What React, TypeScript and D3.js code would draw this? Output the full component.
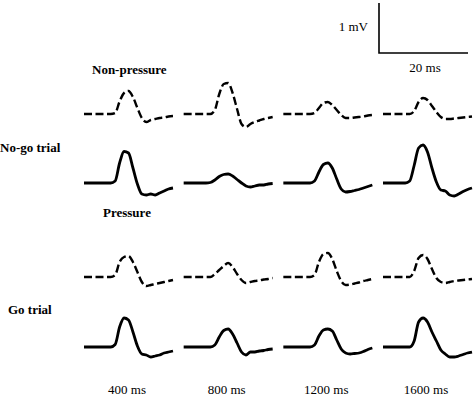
import React, { useEffect, useRef } from 'react';
import * as d3 from 'd3';

// time samples (ms) shared by every trace
const timeMs = [0, 1, 2, 3, 4, 5, 6, 7, 8, 9, 10, 11, 12, 13, 14, 15, 16, 17, 18, 19, 20];

const columns = ['400 ms', '800 ms', '1200 ms', '1600 ms'];

// amplitudes in mV, one array per column
const nonPressureDashed = [
	[0, 0, 0, 0, 0, 0, 0, 0.02, 0.25, 0.42, 0.46, 0.34, 0.12, -0.08, -0.16, -0.12, -0.1, -0.08, -0.07, -0.05, -0.04],
	[0, 0, 0, 0, 0, 0, 0, 0.08, 0.4, 0.6, 0.62, 0.42, 0.1, -0.2, -0.26, -0.2, -0.16, -0.13, -0.1, -0.08, -0.06],
	[0, 0, 0, 0, 0, 0, 0, 0.02, 0.12, 0.22, 0.24, 0.18, 0.08, -0.02, -0.08, -0.08, -0.07, -0.06, -0.05, -0.03, -0.02],
	[0, 0, 0, 0, 0, 0, 0, 0.06, 0.24, 0.32, 0.28, 0.16, 0.04, -0.06, -0.1, -0.1, -0.09, -0.08, -0.07, -0.06, -0.05],
];
const nonPressureSolid = [
	[0, 0, 0, 0, 0, 0, 0, 0.04, 0.4, 0.63, 0.6, 0.3, -0.02, -0.22, -0.24, -0.22, -0.24, -0.2, -0.16, -0.12, -0.1],
	[0, 0, 0, 0, 0, 0, 0.01, 0.06, 0.13, 0.17, 0.18, 0.14, 0.07, 0, -0.06, -0.08, -0.06, -0.04, -0.04, -0.02, -0.01],
	[0, 0, 0, 0, 0, 0, 0, 0.04, 0.22, 0.37, 0.4, 0.3, 0.08, -0.12, -0.18, -0.17, -0.15, -0.13, -0.1, -0.07, -0.04],
	[0, 0, 0, 0, 0, 0, 0.04, 0.35, 0.7, 0.76, 0.62, 0.3, 0.02, -0.14, -0.16, -0.24, -0.26, -0.22, -0.17, -0.13, -0.1],
];
const pressureDashed = [
	[0, 0, 0, 0, 0, 0, 0, 0.04, 0.3, 0.4, 0.42, 0.3, 0.1, -0.1, -0.18, -0.16, -0.14, -0.12, -0.1, -0.08, -0.06],
	[0, 0, 0, 0, 0, 0, 0, 0.06, 0.14, 0.22, 0.28, 0.2, 0.06, -0.06, -0.12, -0.1, -0.08, -0.07, -0.05, -0.04, -0.02],
	[0, 0, 0, 0, 0, 0, 0, 0.04, 0.3, 0.46, 0.48, 0.36, 0.12, -0.08, -0.16, -0.15, -0.13, -0.11, -0.08, -0.06, -0.04],
	[0, 0, 0, 0, 0, 0, 0, 0.12, 0.38, 0.44, 0.36, 0.16, -0.02, -0.1, -0.12, -0.1, -0.08, -0.07, -0.06, -0.05, -0.04],
];
const pressureSolid = [
	[0, 0, 0, 0, 0, 0, 0, 0.05, 0.4, 0.58, 0.54, 0.3, 0.02, -0.14, -0.16, -0.2, -0.18, -0.16, -0.12, -0.1, -0.08],
	[0, 0, 0, 0, 0, 0, 0, 0.04, 0.2, 0.33, 0.36, 0.26, 0.08, -0.1, -0.16, -0.1, -0.1, -0.08, -0.07, -0.05, -0.04],
	[0, 0, 0, 0, 0, 0, 0, 0.04, 0.22, 0.34, 0.36, 0.32, 0.14, -0.04, -0.12, -0.14, -0.13, -0.12, -0.09, -0.05, -0.02],
	[0, 0, 0, 0, 0, 0, 0, 0.12, 0.5, 0.58, 0.5, 0.3, 0.12, -0.06, -0.14, -0.2, -0.2, -0.18, -0.15, -0.12, -0.1],
];

const rows = [
	{ data: nonPressureDashed, baseline: 114, dashed: true },
	{ data: nonPressureSolid, baseline: 183, dashed: false },
	{ data: pressureDashed, baseline: 277, dashed: true },
	{ data: pressureSolid, baseline: 347, dashed: false },
];

const width = 474;
const height = 398;
const font = '"Liberation Serif", "Times New Roman", serif';

const drawChart = (ref) => {
	const svg = d3.select(ref.current);
	svg.selectAll('*').remove();

	const colX = d3.scaleLinear().domain([0, 3]).range([84, 383]);
	const pxPerMs = 89 / 20;
	const pxPerMv = 50;

	rows.forEach((row) => {
		const yScale = d3.scaleLinear().domain([0, 1]).range([row.baseline, row.baseline - pxPerMv]);
		row.data.forEach((vals, ci) => {
			const x0 = colX(ci);
			const xScale = d3.scaleLinear().domain([0, 20]).range([x0, x0 + 20 * pxPerMs]);
			const line = d3.line()
				.x((d, i) => xScale(timeMs[i]))
				.y((d) => yScale(d))
				.curve(d3.curveMonotoneX);
			svg.append('path')
				.attr('d', line(vals))
				.attr('fill', 'none')
				.attr('stroke', '#000')
				.attr('stroke-width', row.dashed ? 2.4 : 2.8)
				.attr('stroke-linejoin', 'round')
				.attr('stroke-dasharray', row.dashed ? '8 3.5' : null);
		});
	});

	// scale bar: 1 mV x 20 ms
	const barX = 379;
	const barY = 53;
	const barV = d3.scaleLinear().domain([0, 1]).range([barY, barY - pxPerMv]);
	const barH = d3.scaleLinear().domain([0, 20]).range([barX, barX + 20 * pxPerMs]);
	svg.append('path')
		.attr('d', `M${ barX },${ barV(1) }L${ barX },${ barV(0) }L${ barH(20) },${ barY }`)
		.attr('fill', 'none')
		.attr('stroke', '#000')
		.attr('stroke-width', 1.6);

	const text = (x, y, s, opts = {}) => svg.append('text')
		.attr('x', x)
		.attr('y', y)
		.attr('font-family', font)
		.attr('font-size', 13)
		.attr('font-weight', opts.bold ? 'bold' : 'normal')
		.attr('text-anchor', opts.anchor || 'start')
		.text(s);

	text(368, 31, '1 mV', { anchor: 'end' });
	text(425, 72, '20 ms', { anchor: 'middle' });
	text(92, 74, 'Non-pressure', { bold: true });
	text(0, 152, 'No-go trial', { bold: true });
	text(103, 217, 'Pressure', { bold: true });
	text(8, 314, 'Go trial', { bold: true });

	columns.forEach((c, i) => text(colX(i) + 43, 394, c, { anchor: 'middle' }));
};

const App = () => {
	const ref = useRef(null);

	useEffect(() => drawChart(ref), []);

	return (
		<svg ref={ ref } width={ width } height={ height }
			style={ { position: 'absolute', left: 0, top: 0, background: '#fff' } }/>
	);
};

export default App;
